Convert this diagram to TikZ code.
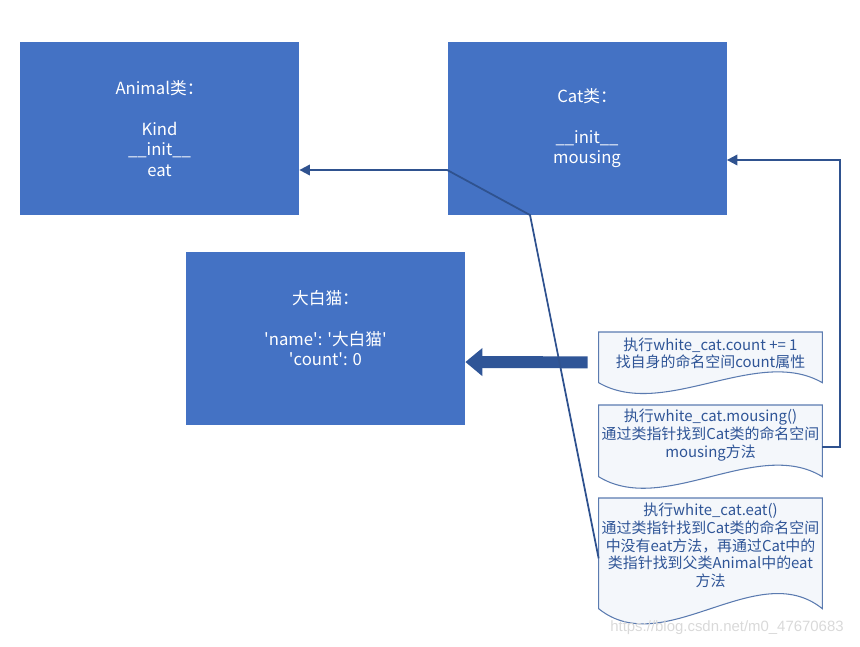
\documentclass[tikz,border=0pt]{standalone}
\usepackage{fontspec}
\setmainfont{Noto Sans CJK SC}
\newfontfamily\urlfont{Liberation Sans}
\usetikzlibrary{arrows.meta,backgrounds}

\definecolor{boxblue}{HTML}{4472C4}
\definecolor{linkblue}{HTML}{2F528F}
\definecolor{docblue}{HTML}{2F5597}
\definecolor{docfill}{HTML}{F4F7FB}
\definecolor{docedge}{HTML}{5B7BB0}

% outline of a document shape: node name, drop of the sides, wave height
\newcommand{\docoutline}[3]{%
  \path[docshape] (#1.north west) -- (#1.north east) -- ([yshift=-#2]#1.south east)
    .. controls +(-1.3,#3) and +(1.3,-#3) .. ([yshift=-#2]#1.south west) -- cycle;}
\newcommand{\sq}{\textquotesingle}

\begin{document}
\begin{tikzpicture}[
    classbox/.style={fill=boxblue, text=white, minimum width=5.58cm, minimum height=3.46cm,
        align=center, font=\fontsize{9.5}{11.6}\selectfont},
    docnode/.style={anchor=north, text=docblue, minimum width=4.46cm, inner sep=0pt,
        align=center, font=\fontsize{8.5}{10.2}\selectfont},
    docshape/.style={fill=docfill, draw=docedge, line width=0.6pt},
    link/.style={draw=linkblue, line width=1pt, -{Triangle[length=6pt,width=6pt]}},
    blockarrow/.style={draw=docblue, line width=6.8pt, -{Triangle[length=9.7pt,width=15.4pt]}}]
    \useasboundingbox (0,0) rectangle (17.2,12.92);

    % classes and instance
    \node[classbox] (animal) at (3.19,10.35) {Animal类：\\[11.6pt]Kind\\\_\_init\_\_\\eat};
    \node[classbox] (cat) at (11.74,10.35) {Cat类：\\[11.6pt]\_\_init\_\_\\mousing};
    \node[classbox] (whitecat) at (6.51,6.15)
        {大白猫：\\[11.6pt]\sq name\sq: \sq 大白猫\sq\\\sq count\sq: 0\\\mbox{}};

    % notes
    \node[docnode, minimum height=0.84cm] (doc1) at (14.21,6.28)
        {执行white\_cat.count += 1\\找自身的命名空间count属性};
    \node[docnode, minimum height=1.18cm] (doc2) at (14.21,4.82)
        {执行white\_cat.mousing()\\通过类指针找到Cat类的命名空间\\mousing方法};
    \node[docnode, minimum height=1.88cm] (doc3) at (14.21,2.96)
        {执行white\_cat.eat()\\通过类指针找到Cat类的命名空间\\中没有eat方法，再通过Cat中的\\类指针找到父类Animal中的eat\\方法};
    \begin{scope}[on background layer]
        \docoutline{doc1}{0.16cm}{0.75}
        \docoutline{doc2}{0.24cm}{0.8}
        \docoutline{doc3}{0.32cm}{1.05}
    \end{scope}

    % connectors
    \draw[blockarrow] ([xshift=-0.22cm,yshift=-0.18cm]doc1.west) -- ([yshift=-0.47cm]whitecat.east);
    \coordinate (bend) at (10.6,8.62);
    \draw[link] ([yshift=-0.26cm]doc3.west) -- (bend) -- ([yshift=-0.83cm]cat.west)
        -- ([yshift=-0.83cm]animal.east);
    \draw[link] ([yshift=-0.25cm]doc2.east) -- ++(0.36,0) |- ([yshift=-0.63cm]cat.east);

    \node[text=gray!30, font=\urlfont\fontsize{8.5}{10}\selectfont] (mark) at (14.54,0.36)
        {https://blog.csdn.net/m0\_47670683};
\end{tikzpicture}
\end{document}
